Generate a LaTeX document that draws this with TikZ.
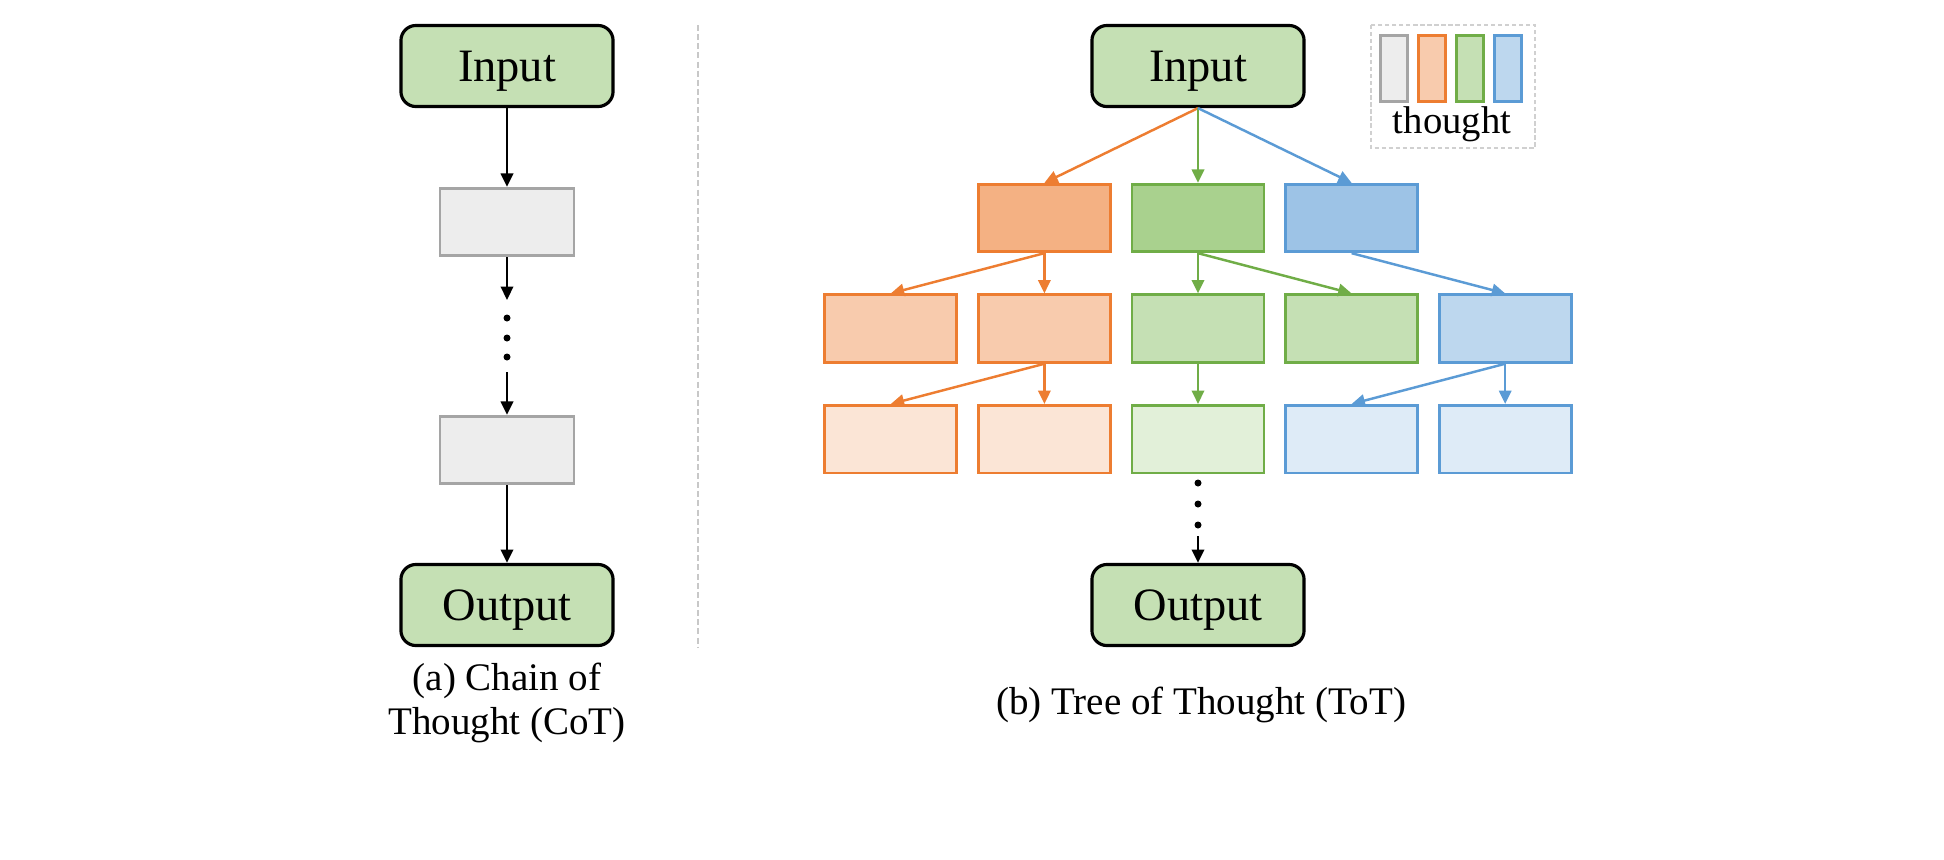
\documentclass[tikz,border=0pt]{standalone}
\usepackage{fontspec}
\setmainfont{Liberation Serif}
\usetikzlibrary{arrows.meta,positioning}

\definecolor{iogreen}{HTML}{C5E0B4}
\definecolor{cotgray}{HTML}{A5A5A5}
\definecolor{cotfill}{HTML}{EDEDED}
\definecolor{totorange}{HTML}{ED7D31}
\definecolor{totgreen}{HTML}{70AD47}
\definecolor{totblue}{HTML}{5B9BD5}
\definecolor{ofill1}{HTML}{F4B183}
\definecolor{ofill2}{HTML}{F8CBAD}
\definecolor{ofill3}{HTML}{FBE5D6}
\definecolor{gfill1}{HTML}{A9D18E}
\definecolor{gfill2}{HTML}{C5E0B4}
\definecolor{gfill3}{HTML}{E2F0D9}
\definecolor{bfill1}{HTML}{9DC3E6}
\definecolor{bfill2}{HTML}{BDD7EE}
\definecolor{bfill3}{HTML}{DEEBF7}
\definecolor{sepgray}{HTML}{C8C8C8}
\definecolor{legendgray}{HTML}{D0D0D0}

\begin{document}
\begin{tikzpicture}[x=0.01cm,y=-0.01cm,->,>={Triangle[length=3.8pt,width=3.5pt]},
                    line width=0.7pt,node distance=0.402cm and 0.187cm,
                    io node/.style={draw=black,line width=0.9pt,rounded corners=0.15cm,fill=iogreen,
                                    minimum width=2.12cm,minimum height=0.81cm,inner sep=0pt,
                                    text depth=0pt,font=\fontsize{13.2}{15}\selectfont},
                    tbox/.style={draw,line width=0.8pt,minimum width=1.32cm,minimum height=0.675cm,inner sep=0pt},
                    cot box/.style={tbox,draw=cotgray,fill=cotfill,minimum width=1.34cm},
                    orange box/.style={tbox,draw=totorange},
                    green box/.style={tbox,draw=totgreen},
                    blue box/.style={tbox,draw=totblue},
                    legend box/.style={draw,line width=0.8pt,minimum width=0.27cm,minimum height=0.66cm,inner sep=0pt},
                    dot/.style={circle,fill=black,inner sep=0pt,minimum size=0.07cm},
                    caption/.style={align=center,font=\fontsize{11.1}{12.4}\selectfont}]
	\useasboundingbox (0,0) rectangle (1944,860);

	% (a) chain of thought
	\node[io node](cin) at (507,66) {Input};
	\node[cot box](c1) at (507,222) {};
	\node[cot box](c2) at (507,450) {};
	\node[io node](cout) at (507,605) {Output};
	\node[dot](ld1) at (507,318) {};
	\node[dot](ld2) at (507,338) {};
	\node[dot](ld3) at (507,357) {};
	\coordinate (lend) at (507,300);
	\coordinate (lstart) at (507,372);
	\node[caption](capa) at (507,703) {(a) Chain of\\Thought (CoT)};

	\path (cin.south) edge (c1.north)
	 (c1.south) edge (lend)
	 (lstart) edge (c2.north)
	 (c2.south) edge (cout.north);

	\draw[-,sepgray,line width=0.8pt,dash pattern=on 1.7pt off 0.9pt] (698,25) -- (698,647);

	% (b) tree of thought
	\node[io node](tin) at (1198,66) {Input};
	\node[green box,fill=gfill1](g1) at (1198,218) {};
	\node[orange box,fill=ofill1,left=of g1](o1) {};
	\node[blue box,fill=bfill1,right=of g1](b1) {};
	\node[green box,fill=gfill2,below=of g1](g2a) {};
	\node[orange box,fill=ofill2,left=of g2a](o2b) {};
	\node[orange box,fill=ofill2,left=of o2b](o2a) {};
	\node[green box,fill=gfill2,right=of g2a](g2b) {};
	\node[blue box,fill=bfill2,right=of g2b](b2) {};
	\node[green box,fill=gfill3,below=of g2a](g3) {};
	\node[orange box,fill=ofill3,left=of g3](o3b) {};
	\node[orange box,fill=ofill3,left=of o3b](o3a) {};
	\node[blue box,fill=bfill3,right=of g3](b3a) {};
	\node[blue box,fill=bfill3,right=of b3a](b3b) {};
	\node[dot](rd1) at (1198,483) {};
	\node[dot](rd2) at (1198,504) {};
	\node[dot](rd3) at (1198,525) {};
	\coordinate (rstart) at (1198,536);
	\node[io node](tout) at (1198,605) {Output};
	\node[caption](capb) at (1201,705) {(b) Tree of Thought (ToT)};

	\path (tin.south) edge[totorange] (o1.north)
	 edge[totgreen] (g1.north)
	 edge[totblue] (b1.north)
	 (o1.south) edge[totorange] (o2a.north)
	 edge[totorange] (o2b.north)
	 (g1.south) edge[totgreen] (g2a.north)
	 edge[totgreen] (g2b.north)
	 (b1.south) edge[totblue] (b2.north)
	 (o2b.south) edge[totorange] (o3a.north)
	 edge[totorange] (o3b.north)
	 (g2a.south) edge[totgreen] (g3.north)
	 (b2.south) edge[totblue] (b3a.north)
	 edge[totblue] (b3b.north)
	 (rstart) edge (tout.north);

	% legend
	\draw[-,legendgray,line width=0.5pt,dash pattern=on 1.2pt off 0.8pt] (1371,25) rectangle (1535,148);
	\node[legend box,draw=cotgray,fill=cotfill](lg1) at (1394,68.5) {};
	\node[legend box,draw=totorange,fill=ofill2,right=0.082cm of lg1](lg2) {};
	\node[legend box,draw=totgreen,fill=gfill2,right=0.082cm of lg2](lg3) {};
	\node[legend box,draw=totblue,fill=bfill2,right=0.082cm of lg3](lg4) {};
	\node[font=\fontsize{11}{12}\selectfont](lgtext) at (1452,124) {thought};
\end{tikzpicture}
\end{document}
